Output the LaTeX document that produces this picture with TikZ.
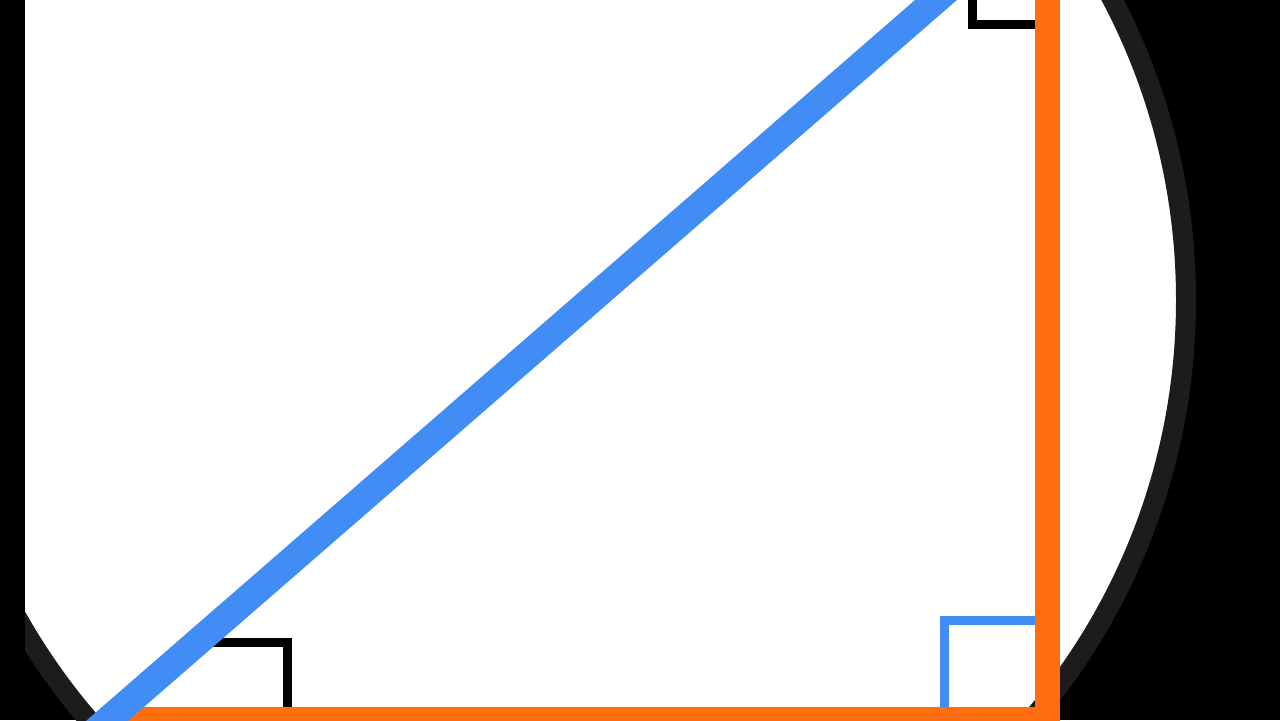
\documentclass[tikz,border=0pt]{standalone}
\usepackage{xcolor}
\usepackage{tikz}
\usetikzlibrary{calc}

\definecolor{ringgray}{HTML}{1C1C1C}
\definecolor{legorange}{HTML}{FF6D0F}
\definecolor{hypblue}{HTML}{428CF5}

\tikzset{
  leg/.style={legorange, line width=2.5mm, line join=miter},
  hyp/.style={hypblue, line width=2.75mm},
  rightmark/.style={line width=0.9mm, line join=miter}
}

\begin{document}
\begin{tikzpicture}[x=0.1mm, y=-0.1mm]

% Frame
\useasboundingbox (0,0) rectangle (1280,720);
\clip (0,0) rectangle (1280,720);
\fill [black] (0,0) rectangle (1280,720);

% Circle
\draw [ringgray, line width=2mm, fill=white] (560,300) ellipse [x radius=626, y radius=638];

% Vertices
\coordinate (A) at (1047.5,-97);
\coordinate (B) at (108.6,719.5);
\coordinate (C) at (1047.5,719.5);

% Right angle marks
\draw [rightmark] (205,642.5) -- (287.5,642.5) -- (287.5,719.5); % at B
\draw [rightmark, hypblue] (944.5,719.5) -- (944.5,620.5) -- (1047.5,620.5); % at C
\draw [rightmark] (972.5,-10) -- (972.5,24) -- (1047.5,24); % at A

% Legs
\draw [leg] ($(B)+(-8,0)$) -- (C) -- (A);

% Hypotenuse
\draw [hyp] (A) -- ($(A)!1.04!(B)$);

% Left edge
\fill [black] (0,0) rectangle (25,720);

\end{tikzpicture}
\end{document}
